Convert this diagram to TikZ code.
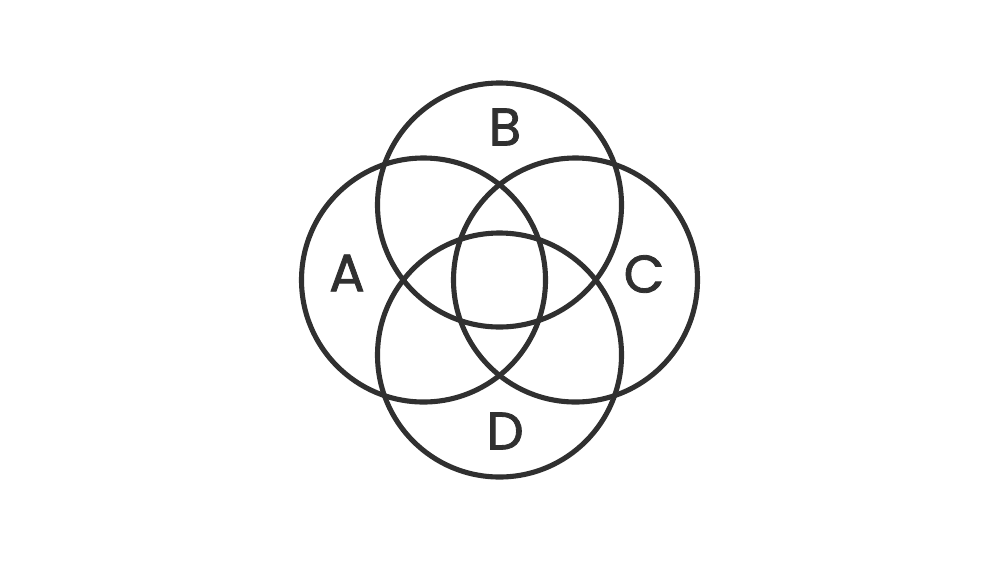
\documentclass[tikz,border=0pt]{standalone}
\usepackage{fontspec}
\setmainfont{Poppins}
\newfontfamily\lettera[FakeBold=1.6]{Poppins}
\definecolor{tratto}{HTML}{303030}
\begin{document}
\begin{tikzpicture}
            \useasboundingbox (0,0) rectangle (10,5.62);
            %cerchi
            \draw[line width=1.45pt, tratto] (4.235,2.82) circle (1.22);
            \draw[line width=1.45pt, tratto] (4.995,3.57) circle (1.22);
            \draw[line width=1.45pt, tratto] (5.755,2.82) circle (1.22);
            \draw[line width=1.45pt, tratto] (4.995,2.07) circle (1.22);
            %lettere
            \node[tratto, font=\lettera\fontsize{15}{18}\selectfont] (labA) at (3.47,2.89) {A};
            \node[tratto, font=\lettera\fontsize{15}{18}\selectfont] (labB) at (5.05,4.35) {B};
            \node[tratto, font=\lettera\fontsize{15}{18}\selectfont] (labC) at (6.44,2.88) {C};
            \node[tratto, font=\lettera\fontsize{15}{18}\selectfont] (labD) at (5.05,1.31) {D};
         \end{tikzpicture}
\end{document}
